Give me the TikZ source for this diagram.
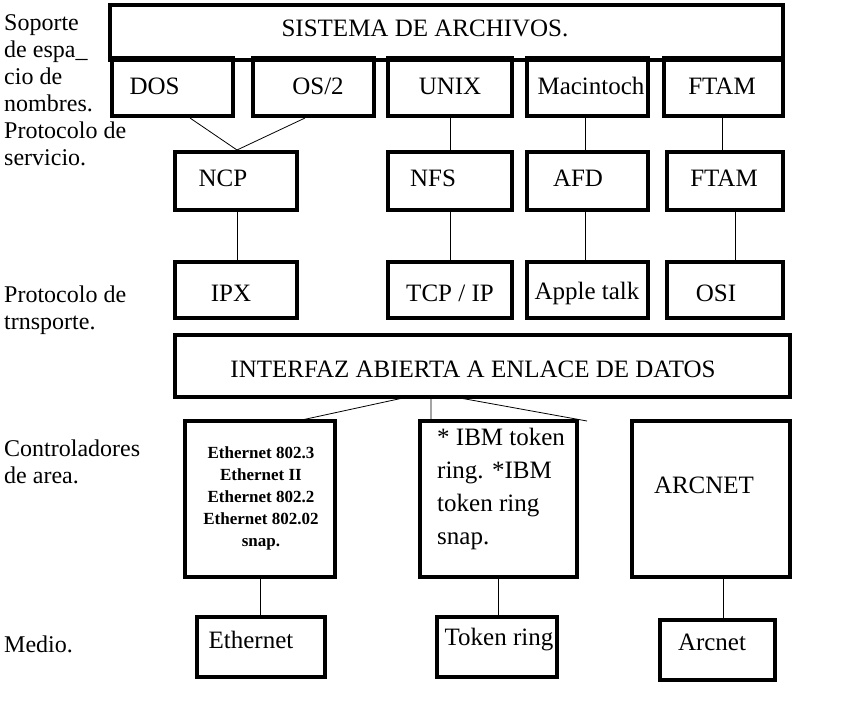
\documentclass[tikz,border=0pt]{standalone}
\usepackage{fontspec}
\setmainfont{Liberation Serif}
\begin{document}
\begin{tikzpicture}[x=1pt,y=-1pt,
  bx/.style={draw,line width=3.5pt,inner sep=0pt},
  ln/.style={draw,line width=0.8pt},
  lbl/.style={font=\fontsize{25}{30}\selectfont},
  sm/.style={font=\fontsize{17}{22}\selectfont\bfseries}]
\useasboundingbox[fill=white] (0,0) rectangle (866,702);
\path[bx] (110,5) rectangle (783,60); \node[lbl] (sa) at (425,28) {SISTEMA DE ARCHIVOS.};
\path[bx] (112,58) rectangle (233,116); \node[lbl,anchor=west] (dos) at (126,86) {DOS};
\path[bx] (253,58) rectangle (374,116); \node[lbl] (os2) at (318,86) {OS/2};
\path[bx] (388,58) rectangle (512,116); \node[lbl] (unix) at (450,86) {UNIX};
\path[bx] (527,58) rectangle (648,116); \node[lbl] (mac) at (591,86) {Macintoch};
\path[bx] (664,58) rectangle (783,116); \node[lbl] (ftam1) at (722,86) {FTAM};
\path[bx] (175,152) rectangle (297,210); \node[lbl] (ncp) at (223,178) {NCP};
\path[bx] (388,152) rectangle (512,210); \node[lbl] (nfs) at (433,178) {NFS};
\path[bx] (527,152) rectangle (648,210); \node[lbl] (afd) at (578,178) {AFD};
\path[bx] (667,152) rectangle (783,210); \node[lbl] (ftam2) at (724,178) {FTAM};
\path[bx] (175,262) rectangle (297,318); \node[lbl] (ipx) at (231,293) {IPX};
\path[bx] (388,262) rectangle (512,318); \node[lbl] (tcp) at (450,293) {TCP / IP};
\path[bx] (527,262) rectangle (648,318); \node[lbl] (apple) at (587,293) {Apple talk};
\path[bx] (667,262) rectangle (783,318); \node[lbl] (osi) at (716,293) {OSI};
\path[bx] (175,335) rectangle (790,397); \node[lbl] (ifz) at (473,369) {INTERFAZ ABIERTA A ENLACE DE DATOS};
\path[bx] (185,421) rectangle (335,577);
\node[sm,align=center] (eth) at (261,498) {Ethernet 802.3\\Ethernet II\\Ethernet 802.2\\Ethernet 802.02\\snap.};
\path[bx] (420,421) rectangle (577,577);
\node[lbl,align=left,anchor=north west,inner sep=0pt,font=\fontsize{25}{33}\selectfont] (ibm) at (437,428) {* IBM token\\ring. *IBM\\token ring\\snap.};
\path[bx] (632,421) rectangle (790,577); \node[lbl] (arc) at (704,485) {ARCNET};
\path[bx] (197,617) rectangle (325,677); \node[lbl] (m1) at (251,640) {Ethernet};
\path[bx] (437,617) rectangle (557,677); \node[lbl] (m2) at (499,640) {Token ring};
\path[bx] (660,620) rectangle (775,680); \node[lbl] (m3) at (712,642) {Arcnet};
\coordinate (j) at (237,150);
\path[ln] (190,118) -- (j) -- (305,118);
\path[ln] (450,118) -- (450,152) (585,118) -- (585,152) (722,118) -- (722,152);
\path[ln] (237,210) -- (237,262) (450,210) -- (450,262) (585,210) -- (585,262) (735,210) -- (735,262);
\path[ln] (403,398) -- (297,421) (431,398) -- (431,421) (460,398) -- (587,421);
\path[ln] (260,577) -- (260,617) (498,577) -- (498,617) (723,577) -- (723,620);
\begin{scope}[every node/.style={lbl,anchor=north west,align=left,inner sep=0pt,font=\fontsize{24}{27}\selectfont}]
\node (l1) at (4,14) {Soporte\\de espa\_\\cio de\\nombres.\\Protocolo de\\servicio.};
\node (l2) at (4,286) {Protocolo de\\trnsporte.};
\node (l3) at (4,440) {Controladores\\de area.};
\node (l4) at (4,636) {Medio.};
\end{scope}
\end{tikzpicture}
\end{document}
